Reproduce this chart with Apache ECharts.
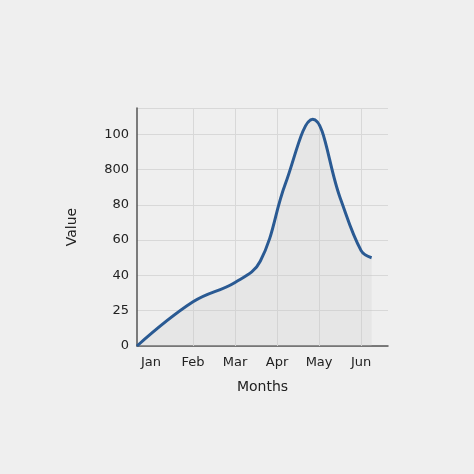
<!DOCTYPE html><html><head><meta charset="utf-8">
<script src="https://cdn.jsdelivr.net/npm/echarts@6/dist/echarts.min.js"></script>
<style>html,body{margin:0;background:#efefef}#c{width:474px;height:474px}</style></head><body><div id="c"></div>
<script>
const months=['Jan','Feb','Mar','Apr','May','Jun'];
const yLabels=['0','25','40','60','80','800','100'];
const curveX=[-0.333,1,2,2.6,3.2,3.85,4.5,5,5.25];
const curveY=[0,1.25,1.8,2.4,4.6,6.42,4.2,2.7,2.5];
const data=curveX.map((x,i)=>[x,curveY[i]]);
const c=echarts.init(document.getElementById('c'));
c.setOption({backgroundColor:'#efefef',
grid:{left:137,right:86,top:108,bottom:128},
xAxis:{type:'value',min:-0.333,max:5.64,name:'Months',nameLocation:'middle',nameGap:34,
 nameTextStyle:{color:'#222',fontSize:14,fontFamily:'DejaVu Sans'},
 axisLine:{show:true,lineStyle:{color:'#555',width:1.5}},splitLine:{show:false},
 axisTick:{show:false},
 axisLabel:{customValues:[0,1,2,3,4,5],formatter:v=>months[Math.round(v)],color:'#222',fontSize:13,fontFamily:'DejaVu Sans',margin:10}},
yAxis:{type:'value',min:0,max:6.74,interval:1,name:'Value',nameLocation:'middle',nameGap:58,
 nameTextStyle:{color:'#222',fontSize:14,fontFamily:'DejaVu Sans'},
 axisLine:{show:true,onZero:false,lineStyle:{color:'#555',width:1.5}},axisTick:{show:false},
 splitLine:{lineStyle:{color:'#d8d8d8'}},
 axisLabel:{formatter:v=>yLabels[Math.round(v)]||'',color:'#222',fontSize:13,fontFamily:'DejaVu Sans'}},
series:[
 {type:'line',data:[],z:1,silent:true,
  markLine:{silent:true,symbol:'none',label:{show:false},lineStyle:{color:'#d8d8d8',type:'solid',width:1},
  data:[{xAxis:1},{xAxis:2},{xAxis:3},{xAxis:4},{xAxis:5}]}},
 {type:'line',data:data,smooth:0.4,symbol:'none',z:5,
 lineStyle:{color:'#2a5a93',width:3},areaStyle:{color:'rgba(200,200,200,0.35)'}}]});
</script></body></html>
